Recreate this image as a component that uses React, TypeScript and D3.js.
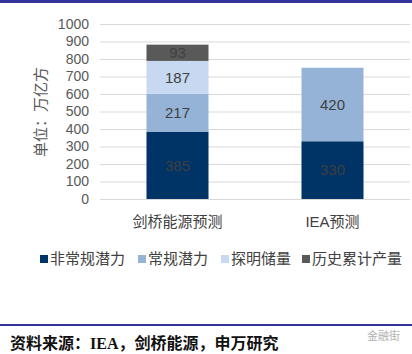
import React, { useEffect, useRef } from 'react';
import * as d3 from 'd3';

const categories = ['剑桥能源预测', 'IEA预测'];
const seriesNames = ['非常规潜力', '常规潜力', '探明储量', '历史累计产量'];
const unconventional = [385, 330];
const conventional = [217, 420];
const proven = [187, 0];
const historical = [93, 0];
const yTicks = [0, 100, 200, 300, 400, 500, 600, 700, 800, 900, 1000];
const colors = ['#003366', '#95B3D7', '#C6D9F1', '#595959'];

const W = 412;
const H = 354;
const cjk = '"Liberation Sans", Arial, "Noto Sans CJK SC", sans-serif';

const App = () => {
  const ref = useRef(null);

  useEffect(() => {
    const svg = d3.select(ref.current);
    svg.selectAll('*').remove();

    const rows = categories.map((c, i) => ({
      cat: c,
      '非常规潜力': unconventional[i],
      '常规潜力': conventional[i],
      '探明储量': proven[i],
      '历史累计产量': historical[i],
    }));
    const stacked = d3.stack().keys(seriesNames)(rows as any);

    const x = d3.scaleBand().domain(categories).range([100, 410]).paddingInner(0.6).paddingOuter(0.3);
    const y = d3.scaleLinear().domain([0, 1000]).range([199, 24]);

    // frame lines
    svg.append('rect').attr('x', 0).attr('y', 0).attr('width', W).attr('height', 3).attr('fill', '#333399');
    svg.append('rect').attr('x', 0).attr('y', 324).attr('width', W).attr('height', 2).attr('fill', '#333399');

    // grid
    svg
      .selectAll('.grid')
      .data(yTicks)
      .enter()
      .append('line')
      .attr('x1', 100)
      .attr('x2', 410)
      .attr('y1', (d) => y(d) + 0.5)
      .attr('y2', (d) => y(d) + 0.5)
      .attr('stroke', '#d9d9d9')
      .attr('stroke-width', 1);

    svg
      .selectAll('.ytick')
      .data(yTicks)
      .enter()
      .append('text')
      .attr('x', 89)
      .attr('y', (d) => y(d))
      .attr('dy', '0.35em')
      .attr('text-anchor', 'end')
      .attr('font-family', cjk)
      .attr('font-size', 14)
      .attr('fill', '#595959')
      .text((d) => d);

    svg
      .append('text')
      .attr('transform', 'translate(41,112) rotate(-90)')
      .attr('text-anchor', 'middle')
      .attr('dy', '0.35em')
      .attr('font-family', cjk)
      .attr('font-size', 15)
      .attr('fill', '#595959')
      .text('单位：万亿方');

    // bars
    stacked.forEach((layer, si) => {
      svg
        .append('g')
        .selectAll('rect')
        .data(layer.filter((d) => d[1] - d[0] > 0))
        .enter()
        .append('rect')
        .attr('x', (d: any) => x(d.data.cat))
        .attr('width', x.bandwidth())
        .attr('y', (d) => y(d[1]))
        .attr('height', (d) => y(d[0]) - y(d[1]))
        .attr('fill', colors[si]);

      svg
        .append('g')
        .selectAll('text')
        .data(layer.filter((d) => d[1] - d[0] > 0))
        .enter()
        .append('text')
        .attr('x', (d: any) => x(d.data.cat) + x.bandwidth() / 2)
        .attr('y', (d) => (y(d[0]) + y(d[1])) / 2)
        .attr('dy', '0.35em')
        .attr('text-anchor', 'middle')
        .attr('font-family', cjk)
        .attr('font-size', 15)
        .attr('fill', '#404040')
        .text((d) => d[1] - d[0]);
    });

    // category labels
    svg
      .selectAll('.xlab')
      .data(categories)
      .enter()
      .append('text')
      .attr('x', (d) => x(d) + x.bandwidth() / 2)
      .attr('y', 222)
      .attr('dy', '0.35em')
      .attr('text-anchor', 'middle')
      .attr('font-family', cjk)
      .attr('font-size', 15)
      .attr('fill', '#404040')
      .text((d) => d);

    // legend
    const legendX = [40, 138, 221, 302];
    const lg = svg
      .selectAll('.lg')
      .data(seriesNames)
      .enter()
      .append('g')
      .attr('transform', (d, i) => `translate(${legendX[i]},259)`);
    lg.append('rect').attr('x', 0).attr('y', -4).attr('width', 8).attr('height', 8).attr('fill', (d, i) => colors[i]);
    lg.append('text')
      .attr('x', 10)
      .attr('dy', '0.35em')
      .attr('font-family', cjk)
      .attr('font-size', 15)
      .attr('fill', '#404040')
      .text((d) => d);

    // source
    svg
      .append('text')
      .attr('x', 10)
      .attr('y', 343)
      .attr('dy', '0.35em')
      .attr('font-family', '"Liberation Serif", "Noto Sans CJK SC", serif')
      .attr('font-size', 16)
      .attr('font-weight', 'bold')
      .attr('fill', '#111')
      .text('资料来源：IEA，剑桥能源，申万研究');

    svg
      .append('text')
      .attr('x', 400)
      .attr('y', 336)
      .attr('dy', '0.35em')
      .attr('text-anchor', 'end')
      .attr('font-family', '"Noto Sans CJK SC", sans-serif')
      .attr('font-size', 11)
      .attr('fill', '#b0b0b0')
      .text('金融街');
  }, []);

  return (
    <svg
      ref={ref}
      width={W}
      height={H}
      style={{ position: 'absolute', left: 0, top: 0, background: '#fff' }}
    />
  );
};

export default App;
